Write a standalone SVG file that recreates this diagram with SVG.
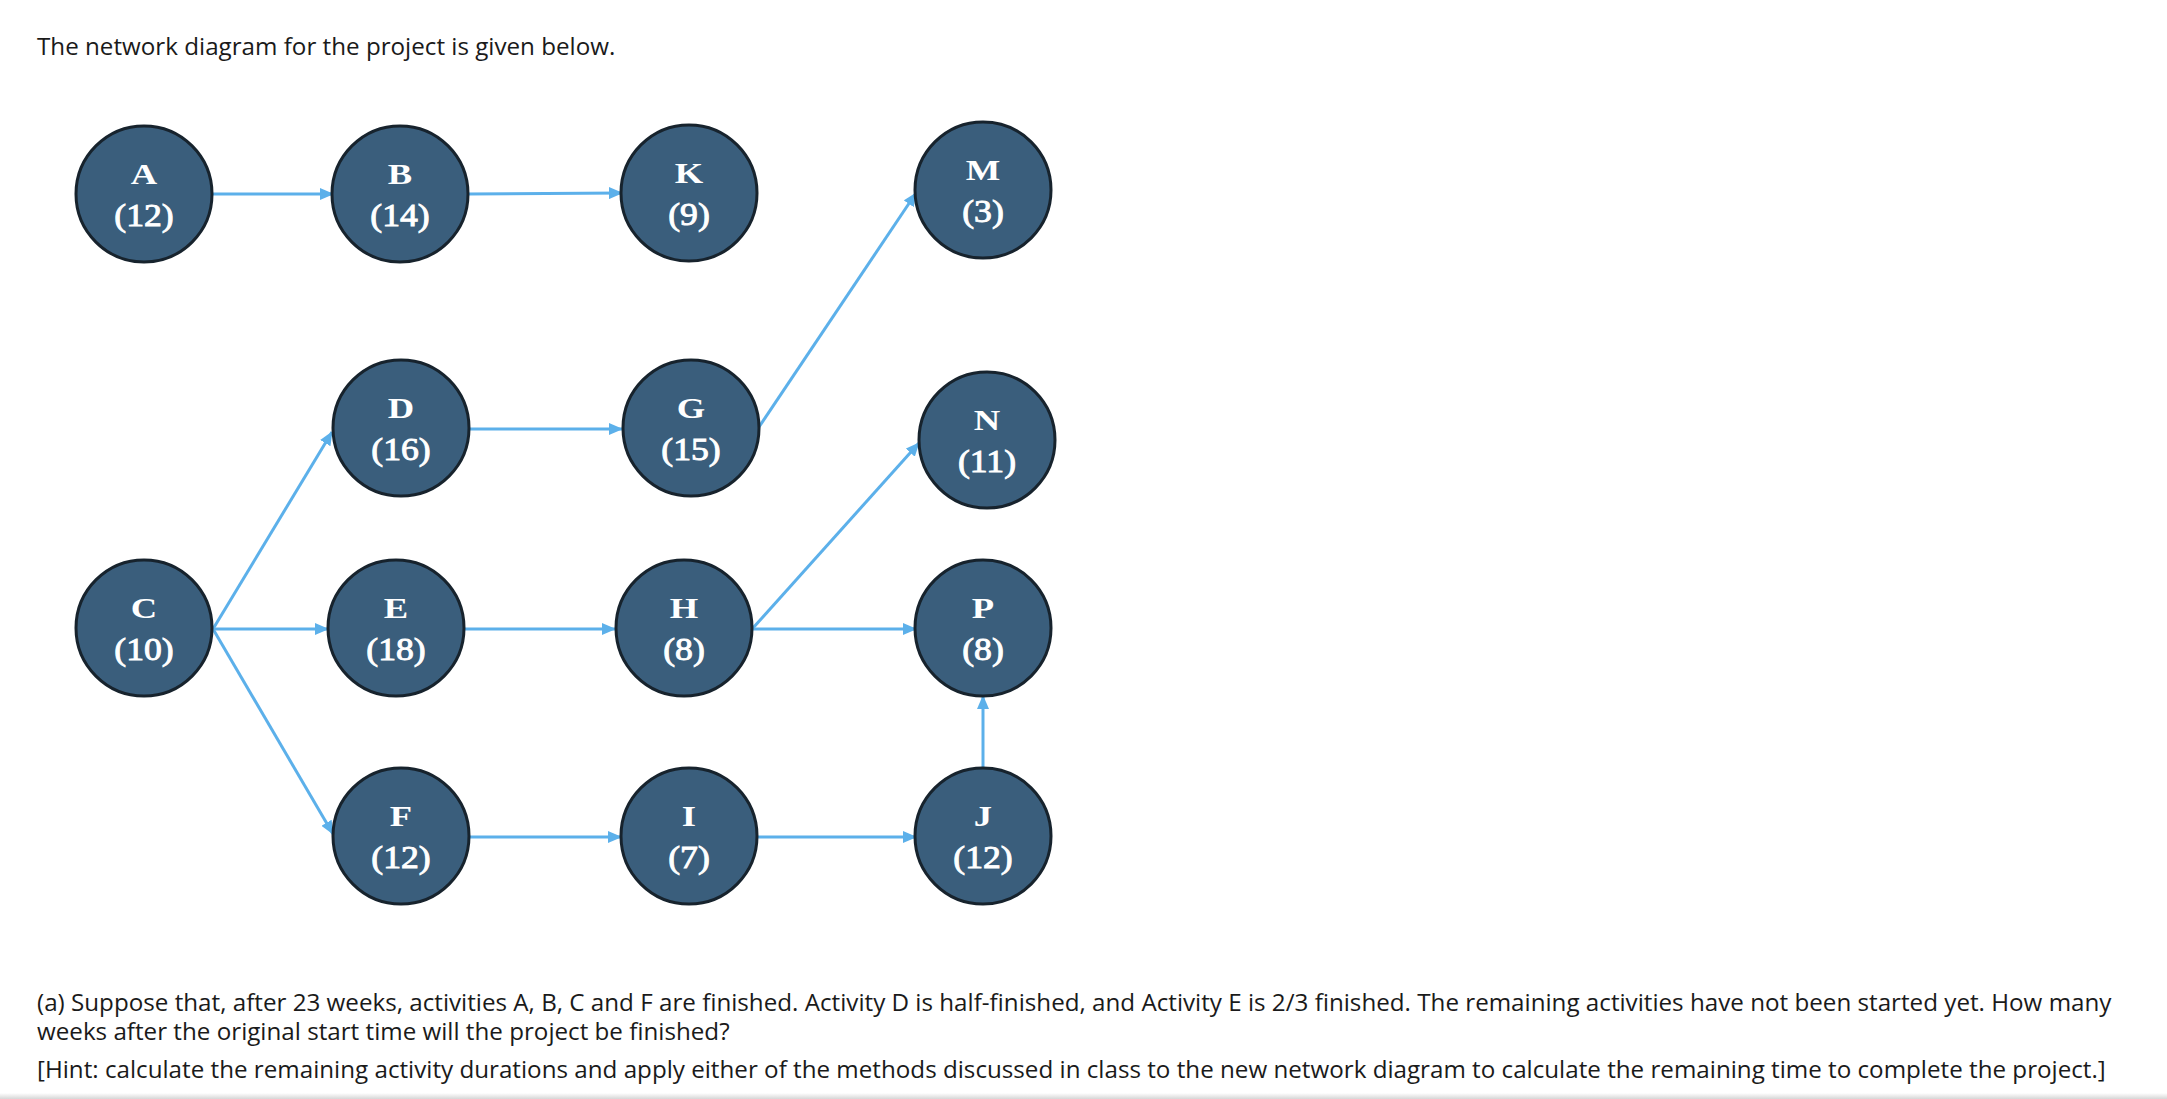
<svg xmlns="http://www.w3.org/2000/svg" width="2167" height="1099" viewBox="0 0 2167 1099">
<style>
.txt{font-family:"Open Sans","Liberation Sans",sans-serif;fill:#1a1a1a;font-size:24.2px}
.node circle{fill:#3a5e7c;stroke:#17232d;stroke-width:3}
.lbl{font-family:"Liberation Serif","DejaVu Serif",serif;fill:#ffffff;text-anchor:middle;font-size:30px;font-weight:bold}
.dur{font-family:"Liberation Serif","DejaVu Serif",serif;fill:#ffffff;stroke:#ffffff;stroke-width:0.9;text-anchor:middle;font-size:31px}
.edge{stroke:#5cb0ea;stroke-width:3;fill:none;marker-end:url(#ah)}
</style>
<defs>
<marker id="ah" markerUnits="userSpaceOnUse" markerWidth="14" markerHeight="12" refX="13" refY="6" orient="auto">
<path d="M0,0 L14,6 L0,12 z" fill="#5cb0ea"/>
</marker>
<linearGradient id="sh" x1="0" y1="0" x2="0" y2="1">
<stop offset="0" stop-color="#ffffff"/>
<stop offset="1" stop-color="#d6d6d6"/>
</linearGradient>
</defs>
<rect width="2167" height="1099" fill="#ffffff"/>
<text class="txt" x="37" y="55">The network diagram for the project is given below.</text>

<g id="connectors">
<line class="edge" x1="213" y1="194" x2="333" y2="194"/>
<line class="edge" x1="468" y1="194" x2="622" y2="193"/>
<line class="edge" x1="759" y1="427" x2="916" y2="193"/>
<line class="edge" x1="470" y1="429" x2="622" y2="429"/>
<line class="edge" x1="213" y1="629" x2="332" y2="432"/>
<line class="edge" x1="213" y1="629" x2="328" y2="629"/>
<line class="edge" x1="213" y1="629" x2="333" y2="834"/>
<line class="edge" x1="464" y1="629" x2="615" y2="629"/>
<line class="edge" x1="753" y1="628" x2="919" y2="443"/>
<line class="edge" x1="753" y1="629" x2="916" y2="629"/>
<line class="edge" x1="469" y1="837" x2="621" y2="837"/>
<line class="edge" x1="756" y1="837" x2="916" y2="837"/>
<line class="edge" x1="983" y1="768" x2="983" y2="696"/>
</g>

<g id="node-A" class="node" transform="translate(144,194)"><circle r="68"/><text class="lbl" y="-10" transform="scale(1.22,1)">A</text><text class="dur" y="32" transform="scale(1.15,1)">(12)</text></g>
<g id="node-B" class="node" transform="translate(400,194)"><circle r="68"/><text class="lbl" y="-10" transform="scale(1.22,1)">B</text><text class="dur" y="32" transform="scale(1.15,1)">(14)</text></g>
<g id="node-K" class="node" transform="translate(689,193)"><circle r="68"/><text class="lbl" y="-10" transform="scale(1.22,1)">K</text><text class="dur" y="32" transform="scale(1.15,1)">(9)</text></g>
<g id="node-M" class="node" transform="translate(983,190)"><circle r="68"/><text class="lbl" y="-10" transform="scale(1.22,1)">M</text><text class="dur" y="32" transform="scale(1.15,1)">(3)</text></g>
<g id="node-D" class="node" transform="translate(401,428)"><circle r="68"/><text class="lbl" y="-10" transform="scale(1.22,1)">D</text><text class="dur" y="32" transform="scale(1.15,1)">(16)</text></g>
<g id="node-G" class="node" transform="translate(691,428)"><circle r="68"/><text class="lbl" y="-10" transform="scale(1.22,1)">G</text><text class="dur" y="32" transform="scale(1.15,1)">(15)</text></g>
<g id="node-N" class="node" transform="translate(987,440)"><circle r="68"/><text class="lbl" y="-10" transform="scale(1.22,1)">N</text><text class="dur" y="32" transform="scale(1.15,1)">(11)</text></g>
<g id="node-C" class="node" transform="translate(144,628)"><circle r="68"/><text class="lbl" y="-10" transform="scale(1.22,1)">C</text><text class="dur" y="32" transform="scale(1.15,1)">(10)</text></g>
<g id="node-E" class="node" transform="translate(396,628)"><circle r="68"/><text class="lbl" y="-10" transform="scale(1.22,1)">E</text><text class="dur" y="32" transform="scale(1.15,1)">(18)</text></g>
<g id="node-H" class="node" transform="translate(684,628)"><circle r="68"/><text class="lbl" y="-10" transform="scale(1.22,1)">H</text><text class="dur" y="32" transform="scale(1.15,1)">(8)</text></g>
<g id="node-P" class="node" transform="translate(983,628)"><circle r="68"/><text class="lbl" y="-10" transform="scale(1.22,1)">P</text><text class="dur" y="32" transform="scale(1.15,1)">(8)</text></g>
<g id="node-F" class="node" transform="translate(401,836)"><circle r="68"/><text class="lbl" y="-10" transform="scale(1.22,1)">F</text><text class="dur" y="32" transform="scale(1.15,1)">(12)</text></g>
<g id="node-I" class="node" transform="translate(689,836)"><circle r="68"/><text class="lbl" y="-10" transform="scale(1.22,1)">I</text><text class="dur" y="32" transform="scale(1.15,1)">(7)</text></g>
<g id="node-J" class="node" transform="translate(983,836)"><circle r="68"/><text class="lbl" y="-10" transform="scale(1.22,1)">J</text><text class="dur" y="32" transform="scale(1.15,1)">(12)</text></g>

<text class="txt" x="37" y="1011">(a) Suppose that, after 23 weeks, activities A, B, C and F are finished. Activity D is half-finished, and Activity E is 2/3 finished. The remaining activities have not been started yet. How many</text>
<text class="txt" x="37" y="1040">weeks after the original start time will the project be finished?</text>
<text class="txt" x="37" y="1078">[Hint: calculate the remaining activity durations and apply either of the methods discussed in class to the new network diagram to calculate the remaining time to complete the project.]</text>
<rect x="0" y="1093" width="2167" height="6" fill="url(#sh)"/>
</svg>
